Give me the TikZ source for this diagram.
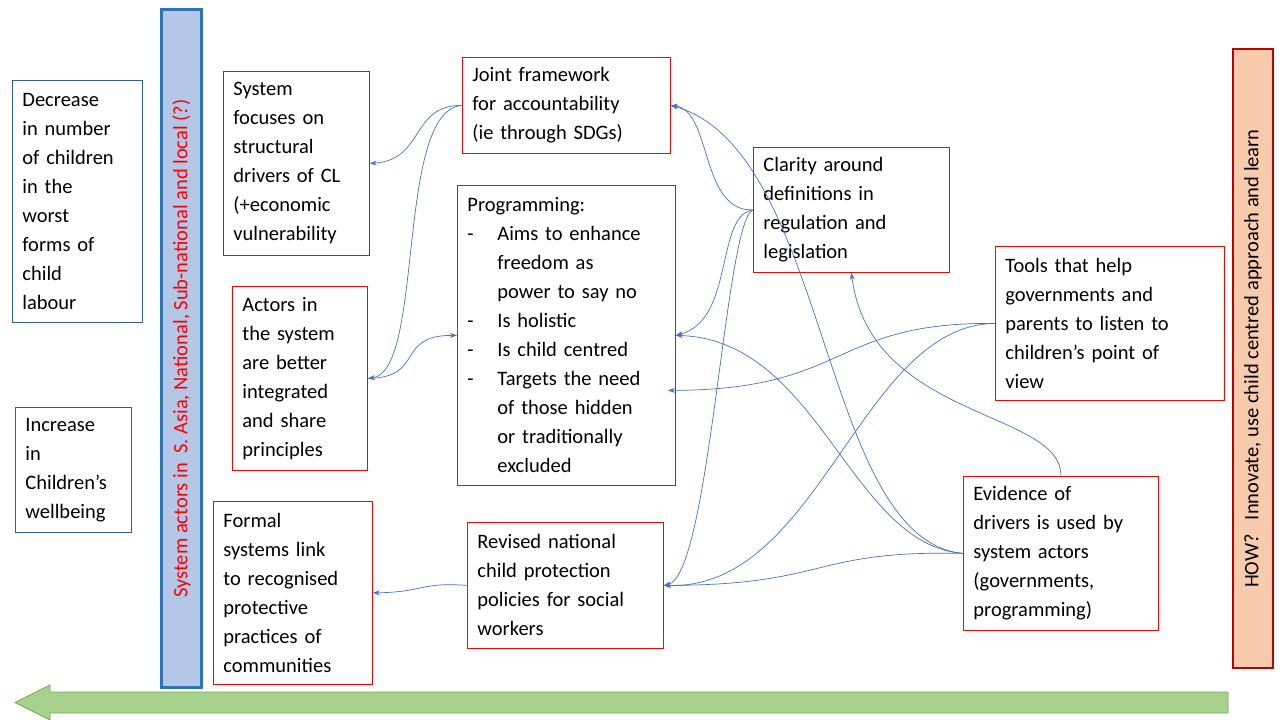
\documentclass[tikz,border=0pt]{standalone}
\usepackage{fontspec}
\setmainfont{Carlito}
\usetikzlibrary{arrows.meta}
\definecolor{lk}{HTML}{4472C4}
\begin{document}
\begin{tikzpicture}[x=1pt,y=-1pt,
 box/.style={draw=red, line width=0.8pt, anchor=north west, inner xsep=10pt, inner ysep=0pt, align=left, font=\fontsize{20.5}{29}\selectfont},
 bbox/.style={box, draw=lk!80!black},
 lnk/.style={draw=lk, line width=0.7pt, -{Stealth[length=7pt,width=5pt]}}]
\useasboundingbox (0,0) rectangle (1280,720);
\newcommand{\bx}[6]{\node[#1, minimum width=#4pt, minimum height=#5pt, text width=#4pt-20pt] (#6) at (#2,#3) {#6text};}
\node[bbox, minimum width=130pt, minimum height=242pt, text width=110pt] (dec) at (12,80) {Decrease\\in number\\of children\\in the\\worst\\forms of\\child\\labour};
\node[bbox, minimum width=116pt, minimum height=125pt, text width=96pt] (inc) at (15,407) {Increase\\in\\Children’s\\wellbeing};
\node[draw={rgb,255:red,46;green,117;blue,182}, line width=3pt, fill={rgb,255:red,180;green,199;blue,231}, minimum width=40pt, minimum height=678pt, anchor=north west, inner sep=0pt] (bar) at (160,8) {};
\node[rotate=90, text=red, font=\fontsize{20.5}{24}\selectfont] at (bar.center) {System actors in~~S. Asia, National, Sub-national and local (?)};
\node[draw={rgb,255:red,192;green,0;blue,0}, line width=2pt, fill={rgb,255:red,248;green,203;blue,173}, minimum width=40pt, minimum height=619pt, anchor=north west, inner sep=0pt] (how) at (1232,48) {};
\node[rotate=90, font=\fontsize{20.5}{24}\selectfont] at (how.center) {HOW?~~~Innovate, use child centred approach and learn};
\node[box, minimum width=146pt, minimum height=184pt, text width=126pt] (sys) at (223,71) {System\\focuses on\\structural\\drivers of CL\\(+economic\\vulnerability};
\node[box, minimum width=208pt, minimum height=96pt, text width=188pt] (joint) at (462,57) {Joint framework\\for accountability\\(ie through SDGs)};
\node[box, minimum width=218pt, minimum height=300pt, text width=198pt] (prog) at (457,185) {Programming:\\\makebox[30pt][l]{-}Aims to enhance\\\makebox[30pt][l]{}freedom as\\\makebox[30pt][l]{}power to say no\\\makebox[30pt][l]{-}Is holistic\\\makebox[30pt][l]{-}Is child centred\\\makebox[30pt][l]{-}Targets the need\\\makebox[30pt][l]{}of those hidden\\\makebox[30pt][l]{}or traditionally\\\makebox[30pt][l]{}excluded};
\node[box, minimum width=135pt, minimum height=184pt, text width=115pt] (act) at (232,286) {Actors in\\the system\\are better\\integrated\\and share\\principles};
\node[box, minimum width=196pt, minimum height=125pt, text width=176pt] (cla) at (753,147) {Clarity around\\definitions in\\regulation and\\legislation};
\node[box, minimum width=229pt, minimum height=154pt, text width=209pt] (tools) at (995,246) {Tools that help\\governments and\\parents to listen to\\children’s point of\\view};
\node[box, minimum width=195pt, minimum height=154pt, text width=175pt] (evid) at (963,476) {Evidence of\\drivers is used by\\system actors\\(governments,\\programming)};
\node[box, minimum width=159pt, minimum height=183pt, text width=139pt] (formal) at (213,501) {Formal\\systems link\\to recognised\\protective\\practices of\\communities};
\node[box, minimum width=196pt, minimum height=126pt, text width=176pt] (rev) at (467,522) {Revised national\\child protection\\policies for social\\workers};
\draw[draw={rgb,255:red,112;green,173;blue,71}, fill={rgb,255:red,169;green,209;blue,142}, line width=0.8pt] (1228,692) -- (50,692) -- (50,685) -- (15,702.5) -- (50,720) -- (50,713) -- (1228,713) -- cycle;
\draw[lnk] (joint.west) .. controls (410,105) and (425,160) .. (sys.east);
\draw[lnk] (joint.west) .. controls (395,110) and (425,372) .. (act.east);
\draw[lnk] (act.east) .. controls (425,378) and (395,335) .. (prog.west);
\draw[lnk] (cla.west) .. controls (700,212) and (712,110) .. (joint.east);
\draw[lnk] (cla.west) .. controls (715,215) and (735,320) .. (prog.east);
\draw[lnk] (cla.west) .. controls (725,220) and (710,575) .. (rev.east);
\draw[lnk] (evid.west) .. controls (820,540) and (830,150) .. (joint.east);
\draw[lnk] (evid.west) .. controls (850,545) and (820,340) .. (prog.east);
\draw[lnk] (evid.west) .. controls (810,550) and (830,585) .. (rev.east);
\draw[lnk] (evid.north) .. controls (1062,410) and (870,420) .. (cla.south);
\draw[lnk] (tools.west) .. controls (830,322) and (850,390) .. ([xshift=-8pt,yshift=-55pt]prog.east);
\draw[lnk] (tools.west) .. controls (860,325) and (820,590) .. (rev.east);
\draw[lnk] (rev.west) .. controls (420,582) and (425,592) .. (formal.east);
\end{tikzpicture}
\end{document}
